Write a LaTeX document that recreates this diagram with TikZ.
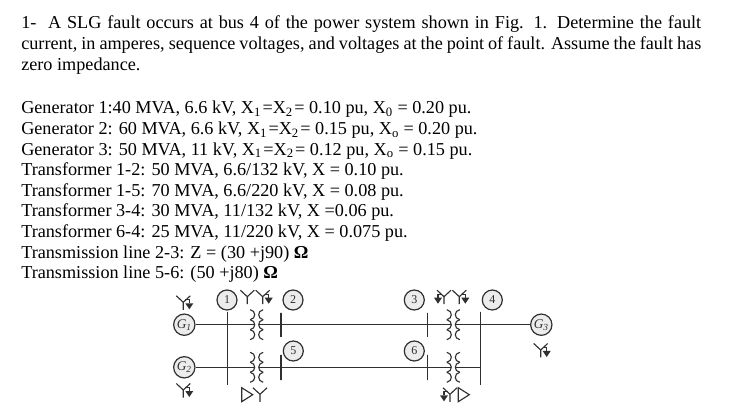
\documentclass[tikz,border=0pt]{standalone}
\usepackage{fontspec}
\setmainfont{Liberation Serif}
\usepackage{tikz}
\usetikzlibrary{positioning}
\definecolor{linegray}{HTML}{303030}
\tikzset{
  textblock/.style={anchor=north west, inner sep=0pt, font=\fontsize{13.65}{15.45}\selectfont},
  busnode/.style={circle, draw=linegray, fill=gray!15, line width=0.9pt, minimum size=15pt, inner sep=0pt, font=\fontsize{9}{10}\selectfont, text=linegray},
  gennode/.style={busnode, minimum size=16pt, font=\fontsize{10}{11}\selectfont\itshape},
  busbar/.style={draw=linegray, line width=0.9pt, rectangle, inner sep=0pt, minimum width=0pt},
  wire/.style={draw=linegray, line width=0.85pt},
  pics/wye/.style={code={
    \draw[wire] (-7,-6.5) -- (0,0) -- (7,-6.5) (0,0) -- (0,7.5);
  }},
  pics/gwye/.style={code={
    \draw[wire] (-7,-6.5) -- (0,0) -- (7,-6.5) (0,0) -- (0,7.5);
    \draw[wire] (2,-2.5) -- (6,-2.5) -- (6,1);
    \fill[linegray] (2,1) -- (10,1) -- (6,7) -- cycle;
  }},
  pics/delta/.style={code={
    \draw[wire] (0,-7) -- (11,0) -- (0,7) -- cycle;
  }},
  pics/xfmr/.style={code={
    \foreach \s in {-15,-5,5} {
      \draw[wire] (-6.5,\s) .. controls (-0.5,\s+1) and (-0.5,\s+9) .. (-6.5,\s+10);
      \draw[wire] (6.5,\s) .. controls (0.5,\s+1) and (0.5,\s+9) .. (6.5,\s+10);
    }
    \coordinate (-l) at (-2,0);
    \coordinate (-r) at (2,0);
  }}
}

\begin{document}
\begin{tikzpicture}[x=0.75pt, y=-0.75pt]
\useasboundingbox (0,0) rectangle (747,417);

% Text
\node[textblock, text width=510pt, align=justify, font=\fontsize{13.65}{16}\selectfont] (problem) at (21,15) {1-\ \ A SLG fault occurs at bus 4 of the power system shown in Fig. 1. Determine the fault current, in amperes, sequence voltages, and voltages at the point of fault. Assume the fault has zero impedance.};
\node[textblock, align=left] (data) at (21,101) {Generator 1:40 MVA, 6.6 kV, X\textsubscript{1}\hspace{1pt}=X\textsubscript{2}\hspace{1pt}= 0.10 pu, X\textsubscript{0} = 0.20 pu.\\
Generator 2: 60 MVA, 6.6 kV, X\textsubscript{1}\hspace{1pt}=X\textsubscript{2}\hspace{1pt}= 0.15 pu, X\textsubscript{o} = 0.20 pu.\\
Generator 3: 50 MVA, 11 kV, X\textsubscript{1}\hspace{1pt}=X\textsubscript{2}\hspace{1pt}= 0.12 pu, X\textsubscript{o} = 0.15 pu.\\
Transformer 1-2: 50 MVA, 6.6/132 kV, X = 0.10 pu.\\
Transformer 1-5: 70 MVA, 6.6/220 kV, X = 0.08 pu.\\
Transformer 3-4: 30 MVA, 11/132 kV, X =0.06 pu.\\
Transformer 6-4: 25 MVA, 11/220 kV, X = 0.075 pu.\\
Transmission line 2-3: Z = (30 +j90) \textbf{Ω}\\
Transmission line 5-6: (50 +j80) \textbf{Ω}};

% Buses
\node[busbar, minimum height=54.75pt] (B1) at (227.3,348.3) {};
\node[busbar, minimum height=18pt] (B2) at (281,325) {};
\node[busbar, minimum height=18.75pt] (B5) at (281,367.5) {};
\node[busbar, minimum height=18pt] (B3) at (427.3,325) {};
\node[busbar, minimum height=18.75pt] (B6) at (427.3,367.5) {};
\node[busbar, minimum height=54.75pt] (B4) at (480.3,348.3) {};

% Bus numbers
\node[busnode] (N1) at (227,300) {1};
\node[busnode] (N2) at (293,300) {2};
\node[busnode] (N5) at (293.3,351) {5};
\node[busnode] (N3) at (414.3,300) {3};
\node[busnode] (N6) at (414.3,351) {6};
\node[busnode] (N4) at (492.3,300) {4};

% Generators
\node[gennode] (G1) at (184.3,324.7) {G\textsubscript{1}};
\node[gennode] (G2) at (184.3,367.3) {G\textsubscript{2}};
\node[gennode] (G3) at (541.3,324.7) {G\textsubscript{3}};

% Transformers
\pic (T12) at (256.7,324.7) {xfmr};
\pic (T15) at (256.7,367.3) {xfmr};
\pic (T34) at (453.3,324.7) {xfmr};
\pic (T64) at (453.3,367.3) {xfmr};

% Connections
\draw[wire] (G1) -- (T12-l);
\draw[wire] (G2) -- (T15-l);
\draw[wire] (T12-r) -- (T34-l);
\draw[wire] (T15-r) -- (T64-l);
\draw[wire] (T34-r) -- (G3);
\draw[wire] (T64-r) -- (T64-r -| B4);

% Winding symbols
\pic at (183.3,302.3) {gwye};
\pic at (183.3,390) {gwye};
\pic at (540.7,350) {gwye};
\pic at (247.3,296.7) {wye};
\pic at (262.7,296.7) {gwye};
\pic[xscale=-1] at (444,296.7) {gwye};
\pic at (459.3,296.7) {gwye};
\pic at (241.7,394.7) {delta};
\pic at (260,394.3) {wye};
\pic[xscale=-1] at (450,394.3) {gwye};
\pic at (458.3,394.7) {delta};

\end{tikzpicture}
\end{document}
